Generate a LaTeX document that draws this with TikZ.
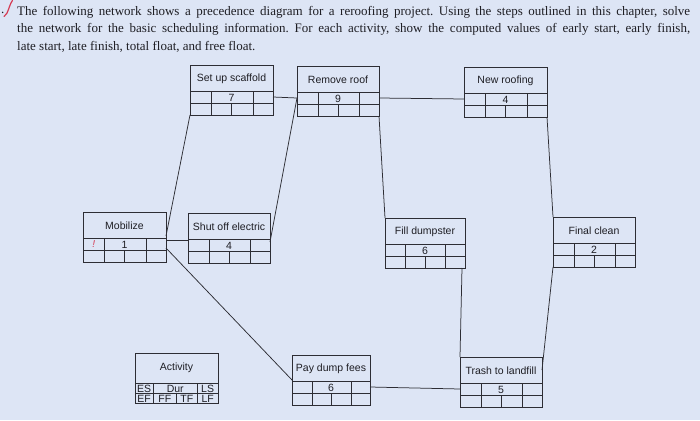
\documentclass[tikz,border=0pt]{standalone}
\usepackage{fontspec}
\setmainfont{Liberation Serif}
\newfontfamily\boxfont{Liberation Sans}
\usetikzlibrary{calc}
\definecolor{bg}{RGB}{221,229,245}
\definecolor{ink}{RGB}{45,45,52}
\definecolor{txt}{RGB}{30,30,36}
\definecolor{redmark}{RGB}{214,60,84}
\frenchspacing
\tikzset{
  actbox/.style={draw=ink, line width=0.8pt, minimum height=50pt, inner sep=0pt, outer sep=0pt, anchor=north west},
  gridline/.style={draw=ink, line width=0.8pt},
  boxtext/.style={font=\boxfont\fontsize{10.5}{12}\selectfont, text=txt, inner sep=0pt},
  legtext/.style={font=\boxfont\fontsize{10.5}{12}\selectfont, text=txt, inner sep=0pt},
  conn/.style={draw=ink, line width=0.75pt},
  para/.style={font=\fontsize{13}{15}\selectfont, text=txt, inner sep=0pt, anchor=base west}
}
\newcommand\actbox[6]{%
  \node[actbox, minimum width=#4pt] (#1) at (#2,#3) {};
  \draw[gridline] ($(#1.north west)+(0,26)$) -- ($(#1.north east)+(0,26)$);
  \draw[gridline] ($(#1.north west)+(0,38)$) -- ($(#1.north east)+(0,38)$);
  \draw[gridline] ($(#1.north west)!0.26!(#1.north east)+(0,26)$) -- ($(#1.south west)!0.26!(#1.south east)$);
  \draw[gridline] ($(#1.north west)!0.76!(#1.north east)+(0,26)$) -- ($(#1.south west)!0.76!(#1.south east)$);
  \draw[gridline] ($(#1.north west)!0.5!(#1.north east)+(0,38)$) -- ($(#1.south west)!0.5!(#1.south east)$);
  \node[boxtext] (#1-t) at ($(#1.north west)!0.5!(#1.north east)+(0,13.5)$) {#5};
  \node[boxtext] (#1-d) at ($(#1.north west)!0.5!(#1.north east)+(0,32.5)$) {#6};
  \coordinate (#1-in) at ($(#1.north west)+(0,32)$);
  \coordinate (#1-out) at ($(#1.north east)+(0,32)$);
}
\begin{document}
\begin{tikzpicture}[x=1pt,y=-1pt]
\useasboundingbox (0,0) rectangle (700,420);
\fill[bg] (0,0) rectangle (700,420);

% question text
\node[para] (dot) at (1,14) {.};
\draw[redmark, line width=1.2pt, line cap=round] (12.5,0.5) .. controls (8,7) and (9,13) .. (4,16.5);
\node[para] (l1) at (17,16) {\makebox[673pt][s]{The following network shows a precedence diagram for a reroofing project. Using the steps outlined in this chapter, solve}};
\node[para] (l2) at (17,33) {\makebox[673pt][s]{the network for the basic scheduling information. For each activity, show the computed values of early start, early finish,}};
\node[para] (l3) at (17,50) {late start, late finish, total float, and free float.};

% activity boxes
\actbox{scaffold}{190}{65}{83}{Set up scaffold}{7}
\actbox{roof}{297}{66}{82}{Remove roof}{9}
\actbox{newroof}{464}{67}{83}{New roofing}{4}
\actbox{mobilize}{83}{212}{83}{Mobilize}{1}
\actbox{shutoff}{188}{213}{82}{Shut off electric}{4}
\actbox{dumpster}{385}{218}{80}{Fill dumpster}{6}
\actbox{finalclean}{553}{217}{82}{Final clean}{2}
\actbox{payfees}{292}{355}{78}{Pay dump fees}{6}
\actbox{trash}{460}{357}{82}{Trash to landfill}{5}

% red mark in Mobilize
\node[text=redmark, font=\boxfont\itshape\fontsize{10}{12}\selectfont, inner sep=0pt] (bang) at ($(mobilize.north west)!0.13!(mobilize.north east)+(0,32)$) {!};

% legend box
\node[actbox, minimum width=83pt] (legend) at (135,353) {};
\draw[gridline] ($(legend.north west)+(0,30)$) -- ($(legend.north east)+(0,30)$);
\draw[gridline] ($(legend.north west)+(0,40)$) -- ($(legend.north east)+(0,40)$);
\draw[gridline] ($(legend.north west)!0.22!(legend.north east)+(0,30)$) -- ($(legend.south west)!0.22!(legend.south east)$);
\draw[gridline] ($(legend.north west)!0.75!(legend.north east)+(0,30)$) -- ($(legend.south west)!0.75!(legend.south east)$);
\draw[gridline] ($(legend.north west)!0.5!(legend.north east)+(0,40)$) -- ($(legend.south west)!0.5!(legend.south east)$);
\node[boxtext] (leg-t) at ($(legend.north west)!0.5!(legend.north east)+(0,15)$) {Activity};
\node[legtext] (leg-es) at ($(legend.north west)!0.11!(legend.north east)+(0,35.5)$) {ES};
\node[legtext] (leg-dur) at ($(legend.north west)!0.485!(legend.north east)+(0,35.5)$) {Dur};
\node[legtext] (leg-ls) at ($(legend.north west)!0.875!(legend.north east)+(0,35.5)$) {LS};
\node[legtext] (leg-ef) at ($(legend.north west)!0.11!(legend.north east)+(0,45.5)$) {EF};
\node[legtext] (leg-ff) at ($(legend.north west)!0.36!(legend.north east)+(0,45.5)$) {FF};
\node[legtext] (leg-tf) at ($(legend.north west)!0.625!(legend.north east)+(0,45.5)$) {TF};
\node[legtext] (leg-lf) at ($(legend.north west)!0.875!(legend.north east)+(0,45.5)$) {LF};

% connector end points
\coordinate (m1) at ($(mobilize.north east)+(0,24)$);
\coordinate (m2) at ($(mobilize.north east)+(0,28)$);
\coordinate (s2) at (shutoff.west |- m2);
\coordinate (m3) at ($(mobilize.north east)+(0,36)$);
\coordinate (p3) at ($(payfees.north west)+(0,25)$);
\coordinate (s4) at ($(shutoff.north east)+(0,29)$);
\coordinate (d5) at ($(dumpster.south east)+(-3,0)$);
\coordinate (t6) at ($(trash.north east)+(0,13)$);

% connectors
\draw[conn] (scaffold-out) -- (roof-in);
\draw[conn] (roof-out) -- (newroof-in);
\draw[conn] (m1) -- (scaffold.south west);
\draw[conn] (m2) -- (s2);
\draw[conn] (m3) -- (p3);
\draw[conn] (s4) -- (roof-in);
\draw[conn] (roof.south east) -- (dumpster.north west);
\draw[conn] (newroof.south east) -- (finalclean.north west);
\draw[conn] (d5) -- (trash.north west);
\draw[conn] (finalclean.south west) -- (t6);
\draw[conn] (payfees-out) -- (trash-in);
\end{tikzpicture}
\end{document}
